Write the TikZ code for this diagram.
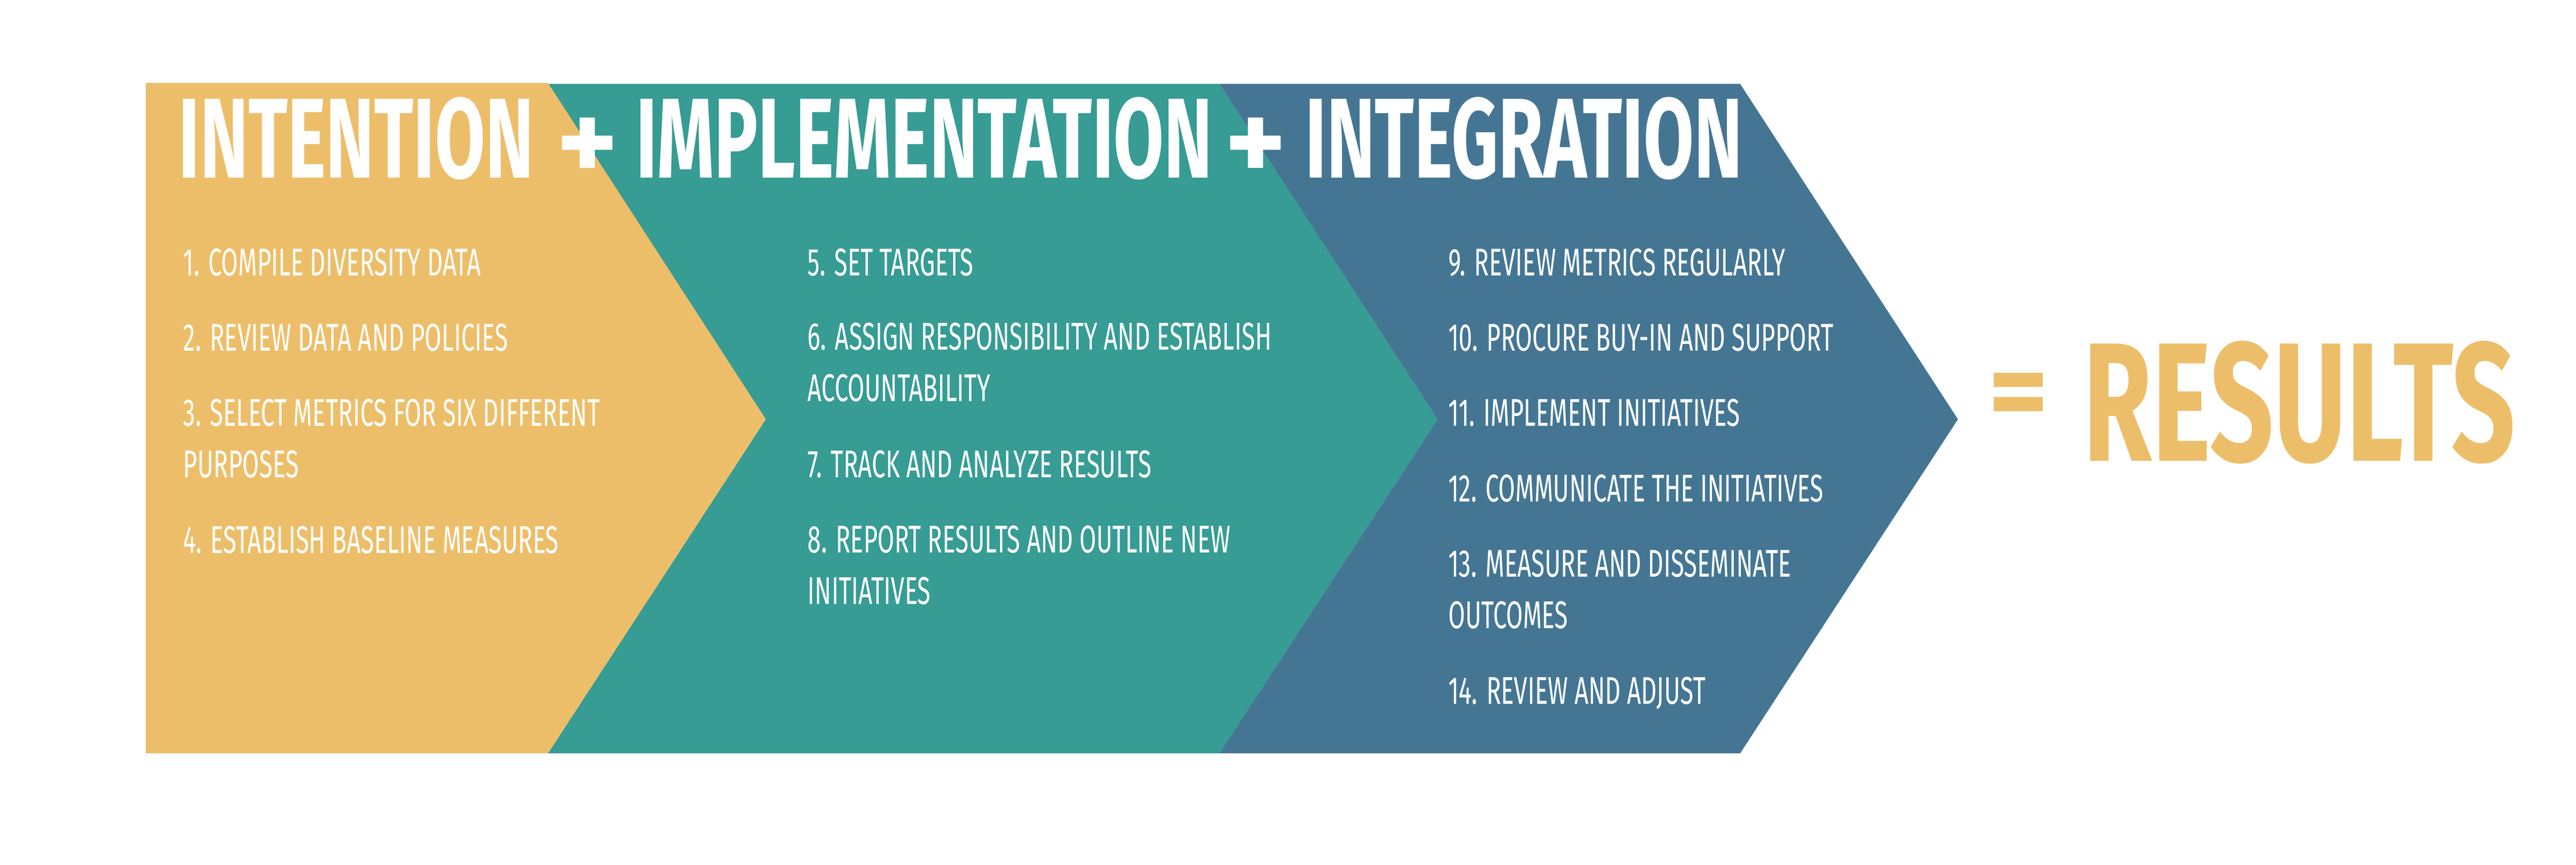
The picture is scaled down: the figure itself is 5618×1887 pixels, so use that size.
\documentclass[tikz,border=0pt]{standalone}
\usepackage{fontspec}
\setmainfont{Fira Sans}[FakeStretch=0.63]
\newfontfamily\headfont{Fira Sans}[FakeStretch=0.64]
\newfontfamily\resultfont{Fira Sans}[FakeStretch=0.66]
\newfontfamily\signfont{Fira Sans}
\definecolor{intyellow}{RGB}{237,190,105}
\definecolor{impteal}{RGB}{54,156,148}
\definecolor{intblue}{RGB}{68,118,148}

\begin{document}
\begin{tikzpicture}[x=0.01cm,y=-0.01cm]
\tikzstyle{every node}+=[inner sep=0pt]
\tikzstyle{heading}=[text=white, anchor=base west, font=\headfont\bfseries\fontsize{70.6}{80}\selectfont]
\tikzstyle{sign}=[text=white, anchor=center, font=\signfont\bfseries\fontsize{72}{80}\selectfont]
\tikzstyle{task}=[text=white, anchor=base west, align=left, font=\fontsize{24}{31.9}\selectfont]
\useasboundingbox (0,0) rectangle (5618,1887);
\fill [intblue] (2659,183) -- (3795,183) -- (4270,915) -- (3795,1644) -- (2659,1644) -- (3135,915) -- cycle;
\fill [impteal] (1195,183) -- (2659,183) -- (3135,915) -- (2659,1644) -- (1195,1644) -- (1670,915) -- cycle;
\fill [intyellow] (318,181) -- (1195,181) -- (1670,915) -- (1195,1644) -- (318,1644) -- cycle;
\node (intention) [heading] at (389,388) {INTENTION};
\node (plus1) [sign] at (1281,326) {+};
\node (implementation) [heading] at (1386,388) {IMPLEMENTATION};
\node (plus2) [sign] at (2738,326) {+};
\node (integration) [heading] at (2846,388) {INTEGRATION};
\node (t1) [task] at (399,602) {1. COMPILE DIVERSITY DATA};
\node (t2) [task] at (399,766) {2. REVIEW DATA AND POLICIES};
\node (t3) [task] at (399,1042) {3. SELECT METRICS FOR SIX DIFFERENT\\PURPOSES};
\node (t4) [task] at (399,1207) {4. ESTABLISH BASELINE MEASURES};
\node (t5) [task] at (1761,602) {5. SET TARGETS};
\node (t6) [task] at (1761,876) {6. ASSIGN RESPONSIBILITY AND ESTABLISH\\ACCOUNTABILITY};
\node (t7) [task] at (1761,1042) {7. TRACK AND ANALYZE RESULTS};
\node (t8) [task] at (1761,1318) {8. REPORT RESULTS AND OUTLINE NEW\\INITIATIVES};
\node (t9) [task] at (3158,602) {9. REVIEW METRICS REGULARLY};
\node (t10) [task] at (3158,766) {10. PROCURE BUY-IN AND SUPPORT};
\node (t11) [task] at (3158,930) {11. IMPLEMENT INITIATIVES};
\node (t12) [task] at (3158,1095) {12. COMMUNICATE THE INITIATIVES};
\node (t13) [task] at (3158,1371) {13. MEASURE AND DISSEMINATE\\OUTCOMES};
\node (t14) [task] at (3158,1536) {14. REVIEW AND ADJUST};
\node (equals) [sign, text=intyellow] at (4402,877) {=};
\node (results) [heading, text=intyellow, font=\resultfont\bfseries\fontsize{105}{110}\selectfont] at (4543,1006) {RESULTS};
\end{tikzpicture}
\end{document}
